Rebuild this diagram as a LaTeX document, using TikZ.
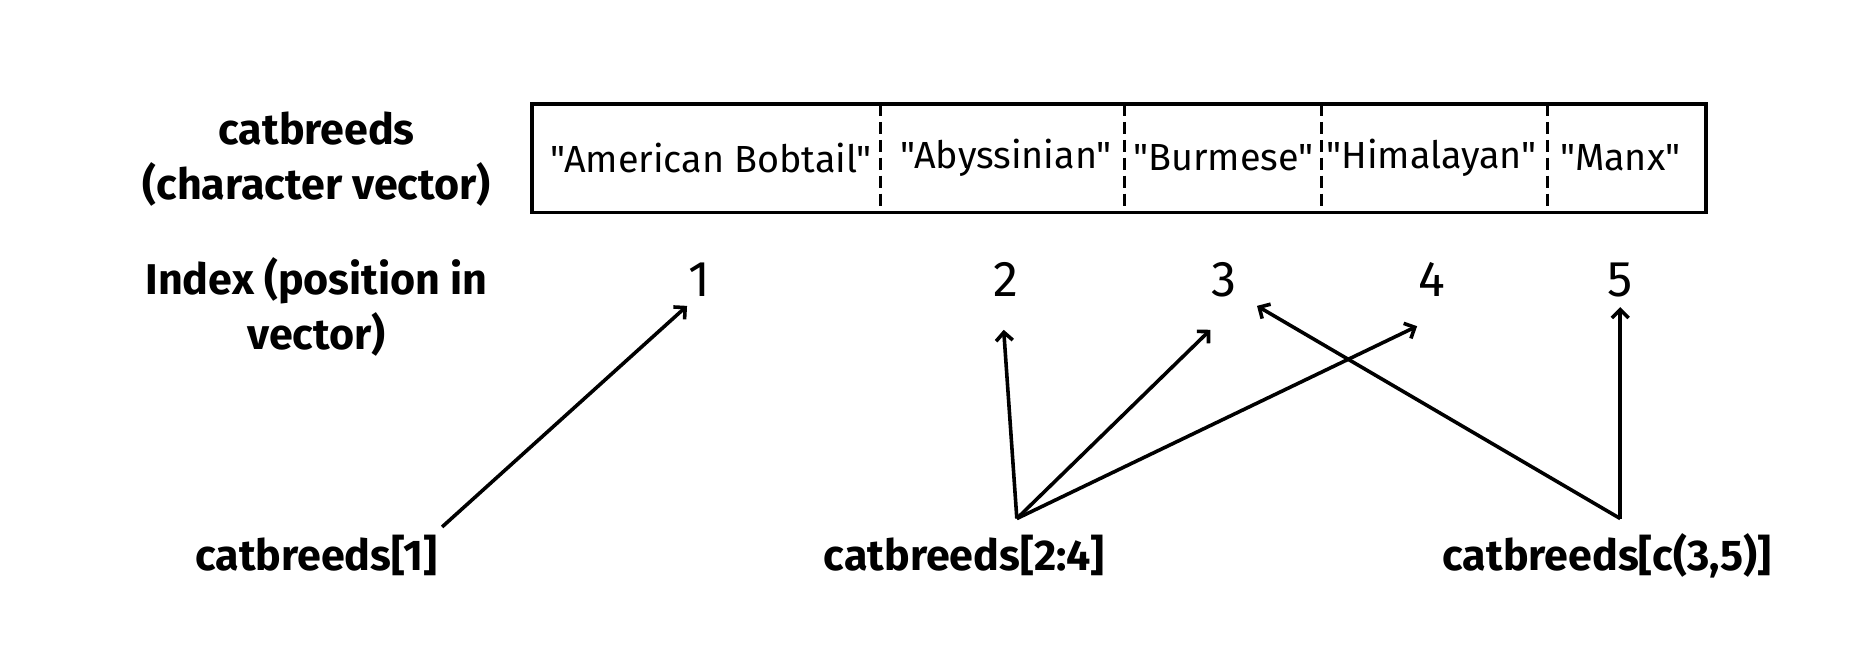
\documentclass[tikz,border=0pt]{standalone}
\usepackage{fontspec}
\setmainfont{Fira Sans}
\newfontfamily\cellfont{Fira Sans}[Ligatures=TeXOff]
\usetikzlibrary{positioning,arrows.meta}

\begin{document}
\begin{tikzpicture}[x=0.5pt,y=-0.5pt,
		lbl/.style={font=\bfseries\fontsize{18}{23}\selectfont,align=center},
		cell/.style={font=\cellfont\fontsize{15.8}{18}\selectfont},
		idx/.style={font=\fontsize{21}{25}\selectfont},
		arr/.style={-{Straight Barb[length=3.5pt,width=7pt]},line width=1.5pt}]
		\useasboundingbox (0,0) rectangle (1560,545.66);
		% the vector
		\draw[line width=1.5pt] (445,87) rectangle (1428,178);
		\foreach \x in {737,941,1106,1295}
			\draw[line width=1.5pt,dash pattern=on 5pt off 2.5pt] (\x,87) -- (\x,178);
		\node[cell] (c1) at (595,132) {"American Bobtail"};
		\node[cell] (c2) at (842,132) {"Abyssinian"};
		\node[cell] (c3) at (1024,132) {"Burmese"};
		\node[cell] (c4) at (1198,132) {"Himalayan"};
		\node[cell] (c5) at (1356,132) {"Manx"};
		% labels on the left
		\node[lbl] (vec) at (265,133) {catbreeds\\(character vector)};
		\node[lbl] (pos) at (265,257) {Index (position in\\vector)};
		% indices
		\node[idx] (i1) at (585,234) {1};
		\node[idx] (i2) at (842,234) {2};
		\node[idx] (i3) at (1024,234) {3};
		\node[idx] (i4) at (1198,234) {4};
		\node[idx] (i5) at (1356,234) {5};
		% subsetting
		\node[lbl] (q1) at (265,465) {catbreeds[1]};
		\node[lbl] (q2) at (807,465) {catbreeds[2:4]};
		\node[lbl] (q3) at (1345,465) {catbreeds[c(3,5)]};
		\coordinate (s1) at (370,441);
		\coordinate (s2) at (851,434);
		\coordinate (s3) at (1356,434);
		\draw[arr] (s1) -- ([shift={(-10,22)}]i1.center);
		\draw[arr] (s2) -- ([shift={(-2,42)}]i2.center);
		\draw[arr] (s2) -- ([shift={(-11,42)}]i3.center);
		\draw[arr] (s2) -- ([shift={(-12,39)}]i4.center);
		\draw[arr] (s3) -- ([shift={(28,22)}]i3.center);
		\draw[arr] (s3) -- ([shift={(0,23)}]i5.center);
	\end{tikzpicture}
\end{document}
